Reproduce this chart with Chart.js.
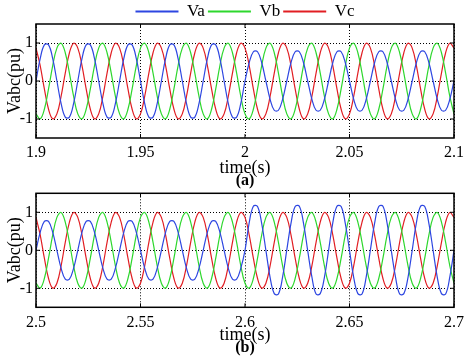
<!DOCTYPE html>
<html>
<head>
<meta charset="utf-8">
<script src="https://cdn.jsdelivr.net/npm/chart.js@4.4.0/dist/chart.umd.min.js"></script>
<style>
body { margin: 0; background: #fff; width: 474px; height: 362px; position: relative; overflow: hidden; }
canvas { position: absolute; left: 0; }
#grafico_a { top: 0; }
#grafico_b { top: 180px; }
</style>
</head>
<body>
<canvas id="grafico_a" width="474" height="189"></canvas>
<canvas id="grafico_b" width="474" height="182"></canvas>
<script>
// nomi e colori delle tre fasi
var fasi = ['Va', 'Vb', 'Vc'];
var colori = ['rgb(45,70,225)', 'rgb(45,215,45)', 'rgb(225,30,35)'];

// etichette degli assi
var tick_y = [-1, 0, 1];
var tick_x_a = [1.9, 1.95, 2, 2.05, 2.1];
var tick_x_b = [2.5, 2.55, 2.6, 2.65, 2.7];

// istanti di campionamento (s)
var tempo_a = [
    1.900, 1.902, 1.904, 1.906, 1.908, 1.910, 1.912, 1.914, 1.916, 1.918,
    1.920, 1.922, 1.924, 1.926, 1.928, 1.930, 1.932, 1.934, 1.936, 1.938,
    1.940, 1.942, 1.944, 1.946, 1.948, 1.950, 1.952, 1.954, 1.956, 1.958,
    1.960, 1.962, 1.964, 1.966, 1.968, 1.970, 1.972, 1.974, 1.976, 1.978,
    1.980, 1.982, 1.984, 1.986, 1.988, 1.990, 1.992, 1.994, 1.996, 1.998,
    2.000, 2.002, 2.004, 2.006, 2.008, 2.010, 2.012, 2.014, 2.016, 2.018,
    2.020, 2.022, 2.024, 2.026, 2.028, 2.030, 2.032, 2.034, 2.036, 2.038,
    2.040, 2.042, 2.044, 2.046, 2.048, 2.050, 2.052, 2.054, 2.056, 2.058,
    2.060, 2.062, 2.064, 2.066, 2.068, 2.070, 2.072, 2.074, 2.076, 2.078,
    2.080, 2.082, 2.084, 2.086, 2.088, 2.090, 2.092, 2.094, 2.096, 2.098,
    2.100
];
var tempo_b = [
    2.500, 2.502, 2.504, 2.506, 2.508, 2.510, 2.512, 2.514, 2.516, 2.518,
    2.520, 2.522, 2.524, 2.526, 2.528, 2.530, 2.532, 2.534, 2.536, 2.538,
    2.540, 2.542, 2.544, 2.546, 2.548, 2.550, 2.552, 2.554, 2.556, 2.558,
    2.560, 2.562, 2.564, 2.566, 2.568, 2.570, 2.572, 2.574, 2.576, 2.578,
    2.580, 2.582, 2.584, 2.586, 2.588, 2.590, 2.592, 2.594, 2.596, 2.598,
    2.600, 2.602, 2.604, 2.606, 2.608, 2.610, 2.612, 2.614, 2.616, 2.618,
    2.620, 2.622, 2.624, 2.626, 2.628, 2.630, 2.632, 2.634, 2.636, 2.638,
    2.640, 2.642, 2.644, 2.646, 2.648, 2.650, 2.652, 2.654, 2.656, 2.658,
    2.660, 2.662, 2.664, 2.666, 2.668, 2.670, 2.672, 2.674, 2.676, 2.678,
    2.680, 2.682, 2.684, 2.686, 2.688, 2.690, 2.692, 2.694, 2.696, 2.698,
    2.700
];

// fase a, grafico (a): buco di tensione da t = 2 s
var va_a = [
    0, 0.588, 0.951, 0.951, 0.588, 0, -0.588, -0.951, -0.951, -0.588,
    0, 0.588, 0.951, 0.951, 0.588, 0, -0.588, -0.951, -0.951, -0.588,
    0, 0.588, 0.951, 0.951, 0.588, 0, -0.588, -0.951, -0.951, -0.588,
    0, 0.588, 0.951, 0.951, 0.588, 0, -0.588, -0.951, -0.951, -0.588,
    0, 0.588, 0.951, 0.951, 0.588, 0, -0.588, -0.951, -0.951, -0.588,
    0, 0.48, 0.77, 0.77, 0.48, 0, -0.48, -0.77, -0.77, -0.48,
    0, 0.48, 0.77, 0.77, 0.48, 0, -0.48, -0.77, -0.77, -0.48,
    0, 0.48, 0.77, 0.77, 0.48, 0, -0.48, -0.77, -0.77, -0.48,
    0, 0.48, 0.77, 0.77, 0.48, 0, -0.48, -0.77, -0.77, -0.48,
    0, 0.48, 0.77, 0.77, 0.48, 0, -0.48, -0.77, -0.77, -0.48,
    0
];

// fase a, grafico (b): sovratensione da t = 2.6 s
var va_b = [
    0, 0.47, 0.76, 0.76, 0.47, 0, -0.47, -0.76, -0.76, -0.47,
    0, 0.47, 0.76, 0.76, 0.47, 0, -0.47, -0.76, -0.76, -0.47,
    0, 0.47, 0.76, 0.76, 0.47, 0, -0.47, -0.76, -0.76, -0.47,
    0, 0.47, 0.76, 0.76, 0.47, 0, -0.47, -0.76, -0.76, -0.47,
    0, 0.47, 0.76, 0.76, 0.47, 0, -0.47, -0.76, -0.76, -0.47,
    0, 0.72, 1.16, 1.15, 0.70, 0, -0.71, -1.14, -1.15, -0.70,
    0.01, 0.71, 1.15, 1.16, 0.71, -0.01, -0.70, -1.15, -1.14, -0.71,
    0, 0.72, 1.16, 1.15, 0.70, 0, -0.71, -1.14, -1.15, -0.70,
    0.01, 0.71, 1.15, 1.16, 0.71, -0.01, -0.70, -1.15, -1.14, -0.71,
    0, 0.72, 1.16, 1.15, 0.70, 0, -0.71, -1.14, -1.15, -0.70,
    0
];

// fasi b e c, uguali nei due grafici
var vb = [
    -0.866, -0.995, -0.743, -0.208, 0.407, 0.866, 0.995, 0.743, 0.208, -0.407,
    -0.866, -0.995, -0.743, -0.208, 0.407, 0.866, 0.995, 0.743, 0.208, -0.407,
    -0.866, -0.995, -0.743, -0.208, 0.407, 0.866, 0.995, 0.743, 0.208, -0.407,
    -0.866, -0.995, -0.743, -0.208, 0.407, 0.866, 0.995, 0.743, 0.208, -0.407,
    -0.866, -0.995, -0.743, -0.208, 0.407, 0.866, 0.995, 0.743, 0.208, -0.407,
    -0.866, -0.995, -0.743, -0.208, 0.407, 0.866, 0.995, 0.743, 0.208, -0.407,
    -0.866, -0.995, -0.743, -0.208, 0.407, 0.866, 0.995, 0.743, 0.208, -0.407,
    -0.866, -0.995, -0.743, -0.208, 0.407, 0.866, 0.995, 0.743, 0.208, -0.407,
    -0.866, -0.995, -0.743, -0.208, 0.407, 0.866, 0.995, 0.743, 0.208, -0.407,
    -0.866, -0.995, -0.743, -0.208, 0.407, 0.866, 0.995, 0.743, 0.208, -0.407,
    -0.866
];
var vc = [
    0.866, 0.407, -0.208, -0.743, -0.995, -0.866, -0.407, 0.208, 0.743, 0.995,
    0.866, 0.407, -0.208, -0.743, -0.995, -0.866, -0.407, 0.208, 0.743, 0.995,
    0.866, 0.407, -0.208, -0.743, -0.995, -0.866, -0.407, 0.208, 0.743, 0.995,
    0.866, 0.407, -0.208, -0.743, -0.995, -0.866, -0.407, 0.208, 0.743, 0.995,
    0.866, 0.407, -0.208, -0.743, -0.995, -0.866, -0.407, 0.208, 0.743, 0.995,
    0.866, 0.407, -0.208, -0.743, -0.995, -0.866, -0.407, 0.208, 0.743, 0.995,
    0.866, 0.407, -0.208, -0.743, -0.995, -0.866, -0.407, 0.208, 0.743, 0.995,
    0.866, 0.407, -0.208, -0.743, -0.995, -0.866, -0.407, 0.208, 0.743, 0.995,
    0.866, 0.407, -0.208, -0.743, -0.995, -0.866, -0.407, 0.208, 0.743, 0.995,
    0.866, 0.407, -0.208, -0.743, -0.995, -0.866, -0.407, 0.208, 0.743, 0.995,
    0.866
];

var font_nome = "'Liberation Serif', 'DejaVu Serif', serif";

// cornice nera attorno all'area del grafico, con tacche verso l'interno
var cornice = {
    id: 'cornice',
    afterDraw: function(chart) {
        var ctx = chart.ctx;
        var a = chart.chartArea;
        var sx = chart.scales.x;
        var sy = chart.scales.y;
        ctx.save();
        ctx.setLineDash([]);
        ctx.strokeStyle = '#000';
        ctx.lineWidth = 1.5;
        ctx.strokeRect(a.left, a.top, a.right - a.left, a.bottom - a.top);
        ctx.lineWidth = 1;
        ctx.beginPath();
        sx.ticks.forEach(function(t) {
            var px = sx.getPixelForValue(t.value);
            ctx.moveTo(px, a.top); ctx.lineTo(px, a.top + 4);
            ctx.moveTo(px, a.bottom); ctx.lineTo(px, a.bottom - 4);
        });
        sy.ticks.forEach(function(t) {
            var py = sy.getPixelForValue(t.value);
            ctx.moveTo(a.left, py); ctx.lineTo(a.left + 4, py);
            ctx.moveTo(a.right, py); ctx.lineTo(a.right - 4, py);
        });
        ctx.stroke();
        ctx.restore();
    }
};

// la legenda occupa solo la striscia sopra il primo grafico
var altezza_legenda = {
    id: 'altezza_legenda',
    beforeLayout: function(chart) {
        var lg = chart.legend;
        if (lg && !lg._fit_originale) {
            lg._fit_originale = lg.fit;
            lg.fit = function() {
                this._fit_originale();
                this.height = 24;
            };
        }
    }
};

function creaGrafico(id, tempi, va, tick_x, lettera, con_legenda, pad_top, pad_bottom, h_x) {
    var ctx = document.getElementById(id).getContext('2d');
    var serie = [va, vb, vc];
    var datasets = [];
    for (var i = 0; i < fasi.length; i++) {
        datasets.push({
            label: fasi[i],
            data: serie[i],
            borderColor: colori[i],
            backgroundColor: colori[i],
            borderWidth: 1.2,
            pointRadius: 0,
            tension: 0.4,
            fill: false
        });
    }
    return new Chart(ctx, {
        type: 'line',
        data: {
            labels: tempi,
            datasets: datasets
        },
        options: {
            responsive: false,
            animation: false,
            devicePixelRatio: 1,
            layout: { padding: { top: pad_top, right: 20, bottom: pad_bottom, left: 0 } },
            scales: {
                x: {
                    type: 'linear',
                    min: tick_x[0],
                    max: tick_x[tick_x.length - 1],
                    afterBuildTicks: function(s) {
                        s.ticks = tick_x.map(function(v) { return { value: v }; });
                    },
                    afterFit: function(s) { s.height = h_x; },
                    grid: { color: '#000', lineWidth: 1, drawTicks: false },
                    border: { display: false, dash: [1, 2] },
                    ticks: {
                        color: '#000',
                        padding: 5.5,
                        maxRotation: 0,
                        autoSkip: false,
                        font: { family: font_nome, size: 16 },
                        callback: function(v) { return String(v); }
                    },
                    title: {
                        display: true,
                        text: 'time(s)',
                        color: '#000',
                        padding: { top: 0, bottom: 0 },
                        font: { family: font_nome, size: 18, lineHeight: 0.5 }
                    }
                },
                y: {
                    min: -1.5,
                    max: 1.5,
                    afterBuildTicks: function(s) {
                        s.ticks = tick_y.map(function(v) { return { value: v }; });
                    },
                    afterFit: function(s) { s.width = 36; },
                    grid: { color: '#000', lineWidth: 1, drawTicks: false },
                    border: { display: false, dash: [1, 2] },
                    ticks: {
                        color: '#000',
                        padding: 3,
                        font: { family: font_nome, size: 16 },
                        callback: function(v) { return String(v); }
                    },
                    title: {
                        display: true,
                        text: 'Vabc(pu)',
                        color: '#000',
                        padding: { top: 4, bottom: 4 },
                        font: { family: font_nome, size: 18 }
                    }
                }
            },
            plugins: {
                legend: {
                    display: con_legenda,
                    position: 'top',
                    fullSize: false,
                    labels: {
                        boxWidth: 43,
                        boxHeight: 2,
                        padding: 3,
                        color: '#000',
                        font: { family: font_nome, size: 17 },
                        generateLabels: function(chart) {
                            return chart.data.datasets.map(function(d, i) {
                                return { text: d.label, fillStyle: d.borderColor, strokeStyle: d.borderColor, lineWidth: 0, hidden: false, datasetIndex: i };
                            });
                        }
                    }
                },
                title: {
                    display: true,
                    text: lettera,
                    position: 'bottom',
                    fullSize: false,
                    color: '#000',
                    padding: 0,
                    font: { family: font_nome, size: 16, weight: 'bold', lineHeight: 1 }
                },
                tooltip: { enabled: false }
            }
        },
        plugins: con_legenda ? [cornice, altezza_legenda] : [cornice]
    });
}

creaGrafico('grafico_a', tempo_a, va_a, tick_x_a, '(a)', true, 0, 0, 35);
creaGrafico('grafico_b', tempo_b, va_b, tick_x_b, '(b)', false, 13.3, 6.5, 32.2);
</script>
</body>
</html>
